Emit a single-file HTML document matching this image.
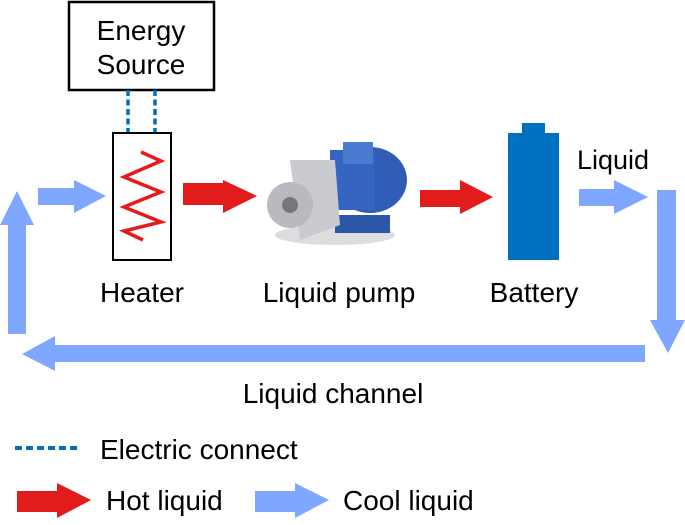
<!DOCTYPE html>
<html><head><style>
body{margin:0;width:685px;height:520px;background:#fff;overflow:hidden}
text{font-family:"Liberation Sans",sans-serif;fill:#000}
</style></head><body>
<svg width="685" height="520" viewBox="0 0 685 520">
<rect x="69" y="2" width="145" height="88" fill="#fff" stroke="#000" stroke-width="2.5"/>
<text x="141" y="40" font-size="28" text-anchor="middle">Energy</text>
<text x="141" y="74" font-size="28" text-anchor="middle">Source</text>
<line x1="128" y1="90" x2="128" y2="133" stroke="#0070c0" stroke-width="3.5" stroke-dasharray="6,3.5"/>
<line x1="155" y1="90" x2="155" y2="133" stroke="#0070c0" stroke-width="3.5" stroke-dasharray="6,3.5"/>
<rect x="113" y="133" width="58" height="127" fill="#fff" stroke="#000" stroke-width="2"/>
<polyline points="141,152 161,161 124,177 161,192 124,207 161,222 124,231 143,240" fill="none" stroke="#e8191c" stroke-width="3.5"/>
<polygon points="38,188 74,188 74,180 106,196 74,213 74,205 38,205" fill="#7fa7ff"/>
<polygon points="183,183 223,183 223,180 257,196 223,213 223,205 183,205" fill="#e21b1b"/>
<polygon points="420,190 460,190 460,180 493,197 460,214 460,207 420,207" fill="#e21b1b"/>
<g>
<ellipse cx="335" cy="235" rx="60" ry="10" fill="#ddd"/>
<rect x="335" y="215" width="55" height="18" fill="#2a57a8"/>
<ellipse cx="370" cy="180" rx="37" ry="33" fill="#2f5db5"/>
<rect x="330" y="150" width="45" height="60" fill="#3565c0"/>
<rect x="343" y="142" width="30" height="22" fill="#4a7bd0"/>
<path d="M290 160 L335 160 L340 225 L300 240 Z" fill="#c9cbd0"/>
<circle cx="290" cy="205" r="23" fill="#b8bac0"/>
<circle cx="290" cy="205" r="8" fill="#777"/>
</g>
<rect x="508" y="133" width="51" height="127" fill="#0070c0"/>
<rect x="522" y="123" width="23" height="11" fill="#0070c0"/>
<text x="577" y="169" font-size="27">Liquid</text>
<polygon points="579,189 614,189 614,180 648,197 614,214 614,206 579,206" fill="#7fa7ff"/>
<polygon points="657,190 676,190 676,320 685,320 668,353 650,320 657,320" fill="#7fa7ff"/>
<polygon points="645,345 55,345 55,336 22,354 55,371 55,362 645,362" fill="#7fa7ff"/>
<polygon points="8,334 26,334 26,225 34,225 17,191 0,225 8,225" fill="#7fa7ff"/>
<text x="142" y="302" font-size="28" text-anchor="middle">Heater</text>
<text x="339" y="302" font-size="28" text-anchor="middle">Liquid pump</text>
<text x="534" y="302" font-size="28" text-anchor="middle">Battery</text>
<text x="333" y="403" font-size="28" text-anchor="middle">Liquid channel</text>
<line x1="15" y1="448" x2="78" y2="448" stroke="#0070c0" stroke-width="4" stroke-dasharray="7,4"/>
<text x="100" y="459" font-size="28">Electric connect</text>
<polygon points="17,491 57,491 57,483 91,500 57,518 57,512 17,512" fill="#e21b1b"/>
<text x="106" y="510" font-size="28">Hot liquid</text>
<polygon points="255,491 295,491 295,483 329,500 295,518 295,512 255,512" fill="#7fa7ff"/>
<text x="343" y="510" font-size="28">Cool liquid</text>
</svg>
</body></html>
